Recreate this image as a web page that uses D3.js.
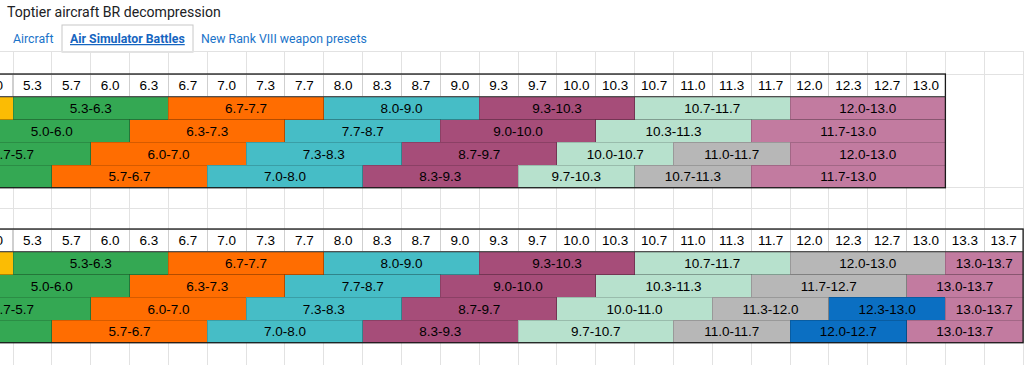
<!DOCTYPE html>
<html>
<head>
<meta charset="utf-8">
<script src="https://cdn.jsdelivr.net/npm/d3@7"></script>
<style>
  html, body { margin: 0; padding: 0; background: #fff; overflow: hidden; }
  svg { display: block; }
</style>
</head>
<body>
<svg id="chart" width="1024" height="365"></svg>
<script>
// ---------- data ----------
const title = "Toptier aircraft BR decompression";
const tabs = ["Aircraft", "Air Simulator Battles", "New Rank VIII weapon presets"];
const activeTab = "Air Simulator Battles";

// all BR columns of the sheet (the first ones are scrolled out of view)
const brSteps = ["4.0","4.3","4.7","5.0","5.3","5.7","6.0","6.3","6.7","7.0","7.3","7.7",
  "8.0","8.3","8.7","9.0","9.3","9.7","10.0","10.3","10.7","11.0","11.3","11.7",
  "12.0","12.3","12.7","13.0","13.3","13.7"];

const headers1 = ["5.0","5.3","5.7","6.0","6.3","6.7","7.0","7.3","7.7",
  "8.0","8.3","8.7","9.0","9.3","9.7","10.0","10.3","10.7","11.0","11.3","11.7",
  "12.0","12.3","12.7","13.0"];
const headers2 = ["5.0","5.3","5.7","6.0","6.3","6.7","7.0","7.3","7.7",
  "8.0","8.3","8.7","9.0","9.3","9.7","10.0","10.3","10.7","11.0","11.3","11.7",
  "12.0","12.3","12.7","13.0","13.3","13.7"];

// [row, first column, last column, label, colour group]
const table1Segments = [
  [1,"4.0","5.0","4.0-5.0","yellow"],
  [1,"5.3","6.3","5.3-6.3","green"],
  [1,"6.7","7.7","6.7-7.7","orange"],
  [1,"8.0","9.0","8.0-9.0","teal"],
  [1,"9.3","10.3","9.3-10.3","purple"],
  [1,"10.7","11.7","10.7-11.7","mint"],
  [1,"12.0","13.0","12.0-13.0","pink"],
  [2,"5.0","6.0","5.0-6.0","green"],
  [2,"6.3","7.3","6.3-7.3","orange"],
  [2,"7.7","8.7","7.7-8.7","teal"],
  [2,"9.0","10.0","9.0-10.0","purple"],
  [2,"10.3","11.3","10.3-11.3","mint"],
  [2,"11.7","13.0","11.7-13.0","pink"],
  [3,"4.7","5.7","4.7-5.7","green"],
  [3,"6.0","7.0","6.0-7.0","orange"],
  [3,"7.3","8.3","7.3-8.3","teal"],
  [3,"8.7","9.7","8.7-9.7","purple"],
  [3,"10.0","10.7","10.0-10.7","mint"],
  [3,"11.0","11.7","11.0-11.7","gray"],
  [3,"12.0","13.0","12.0-13.0","pink"],
  [4,"4.3","5.3","4.3-5.3","green"],
  [4,"5.7","6.7","5.7-6.7","orange"],
  [4,"7.0","8.0","7.0-8.0","teal"],
  [4,"8.3","9.3","8.3-9.3","purple"],
  [4,"9.7","10.3","9.7-10.3","mint"],
  [4,"10.7","11.3","10.7-11.3","gray"],
  [4,"11.7","13.0","11.7-13.0","pink"]
];

const table2Segments = [
  [1,"4.0","5.0","4.0-5.0","yellow"],
  [1,"5.3","6.3","5.3-6.3","green"],
  [1,"6.7","7.7","6.7-7.7","orange"],
  [1,"8.0","9.0","8.0-9.0","teal"],
  [1,"9.3","10.3","9.3-10.3","purple"],
  [1,"10.7","11.7","10.7-11.7","mint"],
  [1,"12.0","13.0","12.0-13.0","gray"],
  [1,"13.3","13.7","13.0-13.7","pink"],
  [2,"5.0","6.0","5.0-6.0","green"],
  [2,"6.3","7.3","6.3-7.3","orange"],
  [2,"7.7","8.7","7.7-8.7","teal"],
  [2,"9.0","10.0","9.0-10.0","purple"],
  [2,"10.3","11.3","10.3-11.3","mint"],
  [2,"11.7","12.7","11.7-12.7","gray"],
  [2,"13.0","13.7","13.0-13.7","pink"],
  [3,"4.7","5.7","4.7-5.7","green"],
  [3,"6.0","7.0","6.0-7.0","orange"],
  [3,"7.3","8.3","7.3-8.3","teal"],
  [3,"8.7","9.7","8.7-9.7","purple"],
  [3,"10.0","11.0","10.0-11.0","mint"],
  [3,"11.3","12.0","11.3-12.0","gray"],
  [3,"12.3","13.0","12.3-13.0","blue"],
  [3,"13.3","13.7","13.0-13.7","pink"],
  [4,"4.3","5.3","4.3-5.3","green"],
  [4,"5.7","6.7","5.7-6.7","orange"],
  [4,"7.0","8.0","7.0-8.0","teal"],
  [4,"8.3","9.3","8.3-9.3","purple"],
  [4,"9.7","10.7","9.7-10.7","mint"],
  [4,"11.0","11.7","11.0-11.7","gray"],
  [4,"12.0","12.7","12.0-12.7","blue"],
  [4,"13.0","13.7","13.0-13.7","pink"]
];

const colorGroups = ["yellow","green","orange","teal","purple","mint","gray","pink","blue"];
const colorValues = ["#fbbc04","#34a853","#ff6d01","#46bdc6","#a64d79","#b7e1cd","#b7b7b7","#c27ba0","#0b6fc2"];

// ---------- layout ----------
const W = 1024, H = 365;
const colW = 38.85;
const firstVisibleLeft = 13;           // left edge of the "5.3" column
const rowH = 22.75;
const table1Top = 74, table2Top = 229;
const gridTop = 51;

const svg = d3.select("#chart");
const color = d3.scaleOrdinal().domain(colorGroups).range(colorValues);

const x = d3.scaleBand()
  .domain(brSteps)
  .range([firstVisibleLeft - 4 * colW, firstVisibleLeft + (brSteps.length - 4) * colW])
  .paddingInner(0).paddingOuter(0);

const font = "'Liberation Sans', Arial, sans-serif";

// ---------- top bar ----------
svg.append("text")
  .attr("x", 7).attr("y", 17)
  .attr("font-family", "Roboto, 'Liberation Sans', sans-serif")
  .attr("font-size", 14.1)
  .attr("fill", "#202124")
  .text(title);

// active tab box
const tabX = [13, 70, 201];
svg.append("rect")
  .attr("x", 62).attr("y", 25).attr("width", 131).attr("height", 27)
  .attr("fill", "#fff").attr("stroke", "#c8c8c8").attr("stroke-width", 1);

tabs.forEach((t, i) => {
  const active = t === activeTab;
  svg.append("text")
    .attr("x", tabX[i]).attr("y", 43)
    .attr("font-family", "Roboto, 'Liberation Sans', sans-serif")
    .attr("font-size", 12.3)
    .attr("font-weight", active ? 700 : 400)
    .attr("text-decoration", active ? "underline" : null)
    .attr("fill", active ? "#1565c0" : "#1a73c9")
    .text(t);
});

// ---------- sheet gridlines ----------
const grid = svg.append("g").attr("stroke", "#e2e2e2").attr("stroke-width", 1).attr("shape-rendering", "crispEdges");
const hLines = [gridTop, table1Top, 187.75, 208.3, table2Top, table2Top + 5 * rowH];
hLines.forEach(y => grid.append("line").attr("x1", 0).attr("x2", W).attr("y1", y).attr("y2", y));
brSteps.forEach(k => {
  const xx = x(k) + x.bandwidth();
  grid.append("line").attr("x1", xx).attr("x2", xx).attr("y1", gridTop).attr("y2", H);
});

// ---------- tables ----------
function drawTable(top, headers, segments) {
  const y = d3.scaleBand().domain([0, 1, 2, 3, 4]).range([top, top + 5 * rowH]);
  const g = svg.append("g");
  const left = x(headers[0]);
  const right = x(headers[headers.length - 1]) + x.bandwidth();

  // header cells
  const hg = g.append("g");
  hg.selectAll("rect").data(headers).join("rect")
    .attr("x", d => x(d)).attr("y", y(0))
    .attr("width", x.bandwidth()).attr("height", y.bandwidth())
    .attr("fill", "#fff").attr("stroke", "#cfcfcf").attr("stroke-width", 1)
    .attr("shape-rendering", "crispEdges");
  hg.selectAll("text").data(headers).join("text")
    .attr("x", d => x(d) + x.bandwidth() / 2)
    .attr("y", y(0) + y.bandwidth() / 2 + 5)
    .attr("text-anchor", "middle")
    .attr("font-family", font).attr("font-size", 13.5).attr("fill", "#000")
    .text(d => d);

  // merged coloured cells
  const sg = g.append("g");
  sg.selectAll("rect").data(segments).join("rect")
    .attr("x", d => Math.max(x(d[1]), left - 40))
    .attr("y", d => y(d[0]))
    .attr("width", d => x(d[2]) + x.bandwidth() - Math.max(x(d[1]), left - 40))
    .attr("height", y.bandwidth())
    .attr("fill", d => color(d[4]))
    .attr("stroke", "rgba(0,0,0,0.16)").attr("stroke-width", 1)
    .attr("shape-rendering", "crispEdges");
  // labels centred across the merged range (those scrolled fully out of view are not drawn)
  const mid = d => (x(d[1]) + x(d[2]) + x.bandwidth()) / 2;
  sg.selectAll("text").data(segments.filter(d => mid(d) > -10)).join("text")
    .attr("x", mid)
    .attr("y", d => y(d[0]) + y.bandwidth() / 2 + 5)
    .attr("text-anchor", "middle")
    .attr("font-family", font).attr("font-size", 13.5).attr("fill", "#000")
    .text(d => d[3]);

  // outer border + header bottom
  g.append("rect")
    .attr("x", left - 40).attr("y", y(0))
    .attr("width", right - left + 40).attr("height", 5 * rowH)
    .attr("fill", "none").attr("stroke", "#1a1a1a").attr("stroke-width", 1.3);
  g.append("line")
    .attr("x1", left - 40).attr("x2", right)
    .attr("y1", y(1)).attr("y2", y(1))
    .attr("stroke", "#333").attr("stroke-width", 1.2);
}

drawTable(table1Top, headers1, table1Segments);
drawTable(table2Top, headers2, table2Segments);
</script>
</body>
</html>
